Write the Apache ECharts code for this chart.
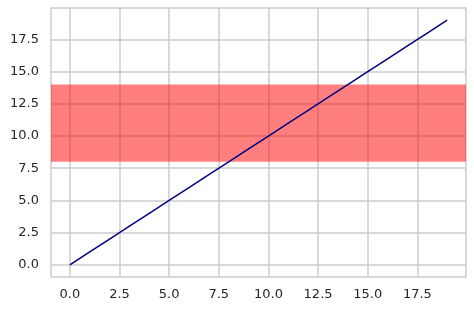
<!DOCTYPE html>
<html>
<head>
<meta charset="utf-8">
<script src="https://cdn.jsdelivr.net/npm/echarts@6/dist/echarts.min.js"></script>
<style>
  html, body { margin: 0; padding: 0; background: #fff; }
  #main { width: 474px; height: 311px; }
</style>
</head>
<body>
<div id="main"></div>
<script>
const xValues = [0, 1, 2, 3, 4, 5, 6, 7, 8, 9, 10, 11, 12, 13, 14, 15, 16, 17, 18, 19];
const yValues = [0, 1, 2, 3, 4, 5, 6, 7, 8, 9, 10, 11, 12, 13, 14, 15, 16, 17, 18, 19];
const xTicks = [0, 2.5, 5, 7.5, 10, 12.5, 15, 17.5];
const yTicks = [0, 2.5, 5, 7.5, 10, 12.5, 15, 17.5];
const bandRange = [8, 14];

const chart = echarts.init(document.getElementById('main'), null, { renderer: 'canvas' });

const axisText = {
  color: '#262626',
  fontFamily: 'DejaVu Sans',
  fontSize: 13
};

chart.setOption({
  animation: false,
  backgroundColor: '#fff',
  grid: {
    left: 51, right: 8, top: 8, bottom: 34,
    show: true,
    borderColor: '#cccccc',
    borderWidth: 1.5,
    backgroundColor: 'transparent'
  },
  xAxis: {
    type: 'value',
    min: -0.95,
    max: 19.95,
    axisLine: { show: false },
    axisTick: { show: false, customValues: xTicks },
    axisLabel: Object.assign({ margin: 11, customValues: xTicks, formatter: v => v.toFixed(1) }, axisText),
    splitLine: { show: true, lineStyle: { color: '#cccccc', width: 1.5 } }
  },
  yAxis: {
    type: 'value',
    min: -0.95,
    max: 19.95,
    axisLine: { show: false },
    axisTick: { show: false, customValues: yTicks },
    axisLabel: Object.assign({ margin: 12, customValues: yTicks, formatter: v => v.toFixed(1) }, axisText),
    splitLine: { show: true, lineStyle: { color: '#cccccc', width: 1.5 } }
  },
  series: [{
    type: 'line',
    data: xValues.map((x, i) => [x, yValues[i]]),
    showSymbol: false,
    lineStyle: { color: '#000080', width: 1.5 },
    z: 3,
    markArea: {
      silent: true,
      itemStyle: { color: 'rgba(255,0,0,0.5)' },
      data: [[{ yAxis: bandRange[0] }, { yAxis: bandRange[1] }]]
    }
  }]
});
</script>
</body>
</html>
